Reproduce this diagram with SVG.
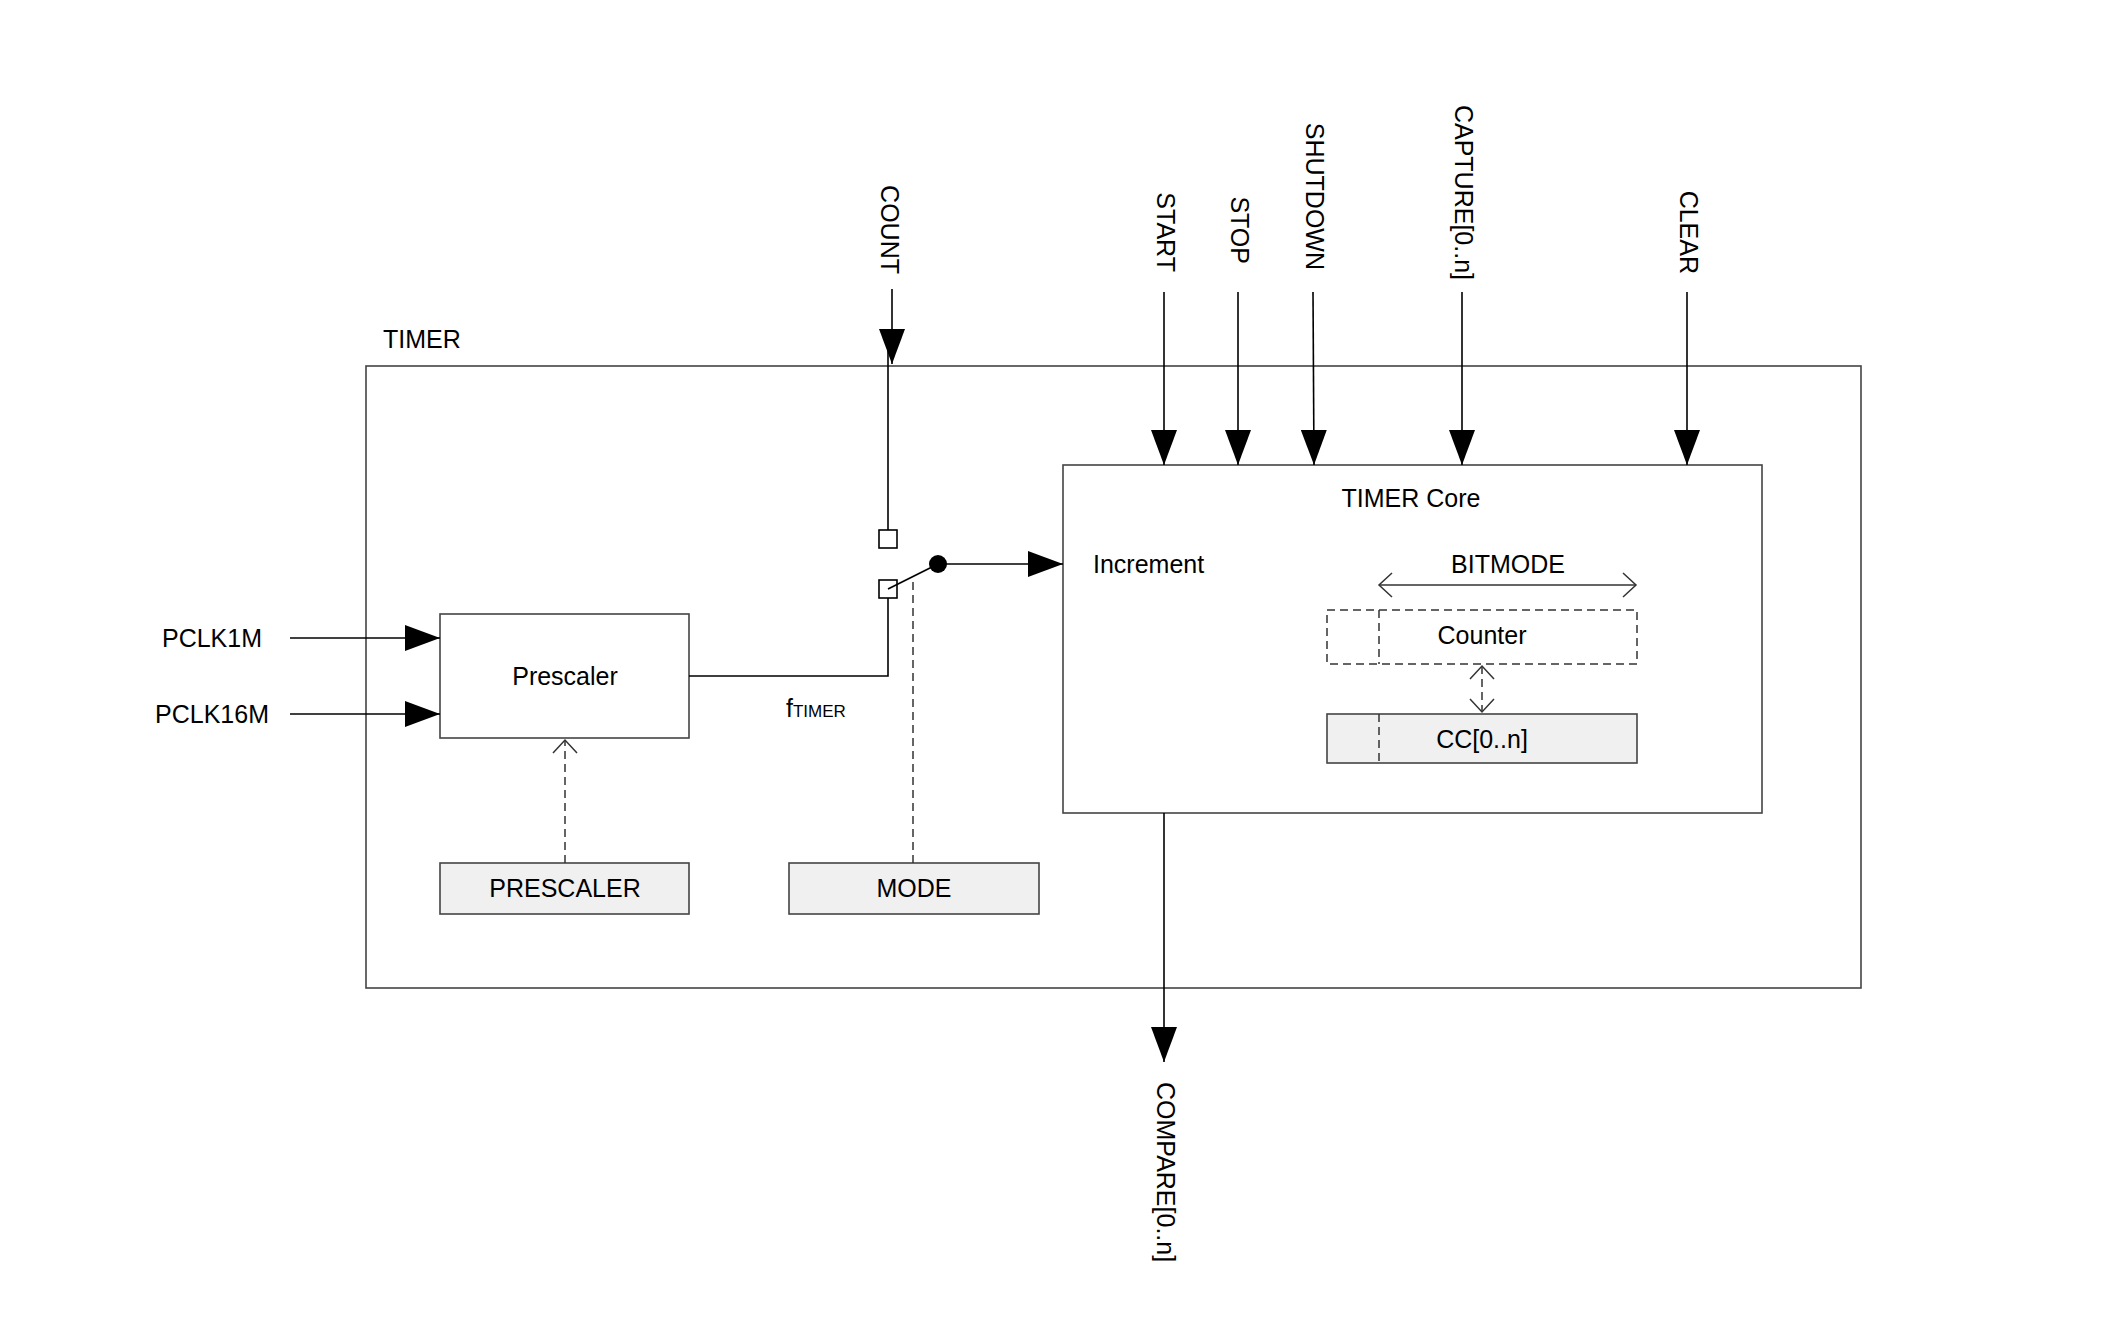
<svg xmlns="http://www.w3.org/2000/svg" width="2106" height="1330" viewBox="0 0 2106 1330">
<style>
text{font-family:"Liberation Sans",Arial,sans-serif;font-size:25px;fill:#000}
.box{fill:#fff;stroke:#444;stroke-width:1.6}
.reg{fill:#f0f0f0;stroke:#444;stroke-width:1.6}
.ln{fill:none;stroke:#000;stroke-width:1.6}
.dash{fill:none;stroke:#333;stroke-width:1.5;stroke-dasharray:8,5}
.m{text-anchor:middle}
</style>
<defs>
<marker id="fa" markerUnits="userSpaceOnUse" markerWidth="36" markerHeight="26" refX="35" refY="13" orient="auto"><path d="M0,0 L35,13 L0,26 Z" fill="#000"/></marker>
<marker id="oa" markerUnits="userSpaceOnUse" markerWidth="16" markerHeight="26" refX="14" refY="13" orient="auto-start-reverse"><path d="M1,1 L14,13 L1,25" fill="none" stroke="#333" stroke-width="1.5"/></marker>
</defs>
<g id="timer"><rect class="box" x="366" y="366" width="1495" height="622"/><text x="383" y="348">TIMER</text></g>
<g id="core"><rect class="box" x="1063" y="465" width="699" height="348"/><text class="m" x="1411" y="507">TIMER Core</text><text x="1093" y="573">Increment</text><text class="m" x="1508" y="573">BITMODE</text></g>
<g id="counter"><rect class="dash" x="1327" y="610" width="310" height="54"/><line class="dash" x1="1379" y1="610" x2="1379" y2="664"/><text class="m" x="1482" y="644">Counter</text></g>
<g id="cc"><rect class="reg" x="1327" y="714" width="310" height="49"/><line class="dash" x1="1379" y1="714" x2="1379" y2="763"/><text class="m" x="1482" y="748">CC[0..n]</text></g>
<g id="prescaler"><rect class="box" x="440" y="614" width="249" height="124"/><text class="m" x="565" y="685">Prescaler</text></g>
<g id="prescalerreg"><rect class="reg" x="440" y="863" width="249" height="51"/><text class="m" x="565" y="897">PRESCALER</text></g>
<g id="modereg"><rect class="reg" x="789" y="863" width="250" height="51"/><text class="m" x="914" y="897">MODE</text></g>
<g id="switch"><rect class="box" x="879" y="530" width="18" height="18" style="stroke:#000"/><rect class="box" x="879" y="580" width="18" height="18" style="stroke:#000"/><line class="ln" x1="888" y1="589" x2="938" y2="564"/><circle cx="938" cy="564" r="9" fill="#000"/></g>
<g id="labels">
<text x="262" y="647" style="text-anchor:end">PCLK1M</text>
<text x="269" y="723" style="text-anchor:end">PCLK16M</text>
<text x="786" y="717">f<tspan font-size="17">TIMER</tspan></text>
<text transform="translate(881,274) rotate(90)" style="text-anchor:end">COUNT</text>
<text transform="translate(1157,272) rotate(90)" style="text-anchor:end">START</text>
<text transform="translate(1231,264) rotate(90)" style="text-anchor:end">STOP</text>
<text transform="translate(1306,270) rotate(90)" style="text-anchor:end">SHUTDOWN</text>
<text transform="translate(1455,280) rotate(90)" style="text-anchor:end">CAPTURE[0..n]</text>
<text transform="translate(1680,274) rotate(90)" style="text-anchor:end">CLEAR</text>
<text transform="translate(1157,1082) rotate(90)">COMPARE[0..n]</text>
</g>
<g id="connectors">
<line class="ln" x1="290" y1="638" x2="440" y2="638" marker-end="url(#fa)"/>
<line class="ln" x1="290" y1="714" x2="440" y2="714" marker-end="url(#fa)"/>
<polyline class="ln" points="689,676 888,676 888,598"/>
<line class="ln" x1="892" y1="289" x2="892" y2="364" marker-end="url(#fa)"/>
<line class="ln" x1="892" y1="364" x2="888" y2="530" style="display:none"/>
<line class="ln" x1="888" y1="340" x2="888" y2="530"/>
<line class="ln" x1="938" y1="564" x2="1063" y2="564" marker-end="url(#fa)"/>
<line class="ln" x1="1164" y1="292" x2="1164" y2="465" marker-end="url(#fa)"/>
<line class="ln" x1="1238" y1="292" x2="1238" y2="465" marker-end="url(#fa)"/>
<line class="ln" x1="1313" y1="292" x2="1314" y2="465" marker-end="url(#fa)"/>
<line class="ln" x1="1462" y1="292" x2="1462" y2="465" marker-end="url(#fa)"/>
<line class="ln" x1="1687" y1="292" x2="1687" y2="465" marker-end="url(#fa)"/>
<line class="ln" x1="1164" y1="813" x2="1164" y2="1062" marker-end="url(#fa)"/>
<line class="dash" x1="565" y1="863" x2="565" y2="740" marker-end="url(#oa)"/>
<line class="dash" x1="913" y1="863" x2="913" y2="577"/>
<line class="dash" x1="1482" y1="666" x2="1482" y2="712" marker-start="url(#oa)" marker-end="url(#oa)"/>
<line x1="1379" y1="585" x2="1636" y2="585" stroke="#333" stroke-width="1.5" marker-start="url(#oa)" marker-end="url(#oa)"/>
</g>
</svg>
